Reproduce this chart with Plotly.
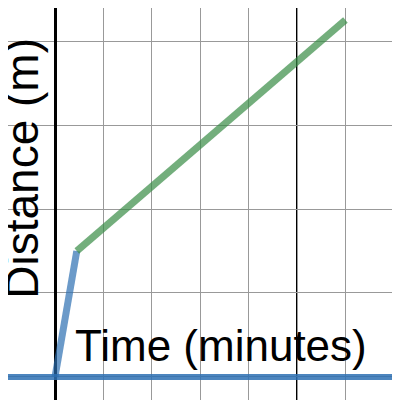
import plotly.graph_objects as go

baseline_x = [-1.2, 7.2]
baseline_y = [0, 0]
blue_x = [0, 0.45]
blue_y = [0, 1.5]
green_x = [0.45, 6.0]
green_y = [1.5, 4.25]

fig = go.Figure()
fig.add_trace(go.Scatter(x=baseline_x, y=baseline_y, mode="lines",
                         line=dict(color="#2d70b3", width=6), opacity=0.85))
fig.add_trace(go.Scatter(x=blue_x, y=blue_y, mode="lines",
                         line=dict(color="#2d70b3", width=7), opacity=0.7))
fig.add_trace(go.Scatter(x=green_x, y=green_y, mode="lines",
                         line=dict(color="#388c46", width=7), opacity=0.7))
fig.add_shape(type="line", x0=5, x1=5, y0=-1, y1=5, xref="x", yref="y",
              line=dict(color="black", width=2), layer="below")
fig.add_annotation(x=3.43, y=0.38, text="Time (minutes)", showarrow=False,
                   font=dict(size=44, color="black", family="Liberation Sans"))
fig.add_annotation(x=-0.68, y=2.48, text="Distance (m)", showarrow=False, textangle=-90,
                   font=dict(size=46, color="black", family="Liberation Sans"))
fig.update_layout(
    width=392, height=392, margin=dict(l=0, r=0, t=0, b=0),
    plot_bgcolor="white", paper_bgcolor="white", showlegend=False,
    xaxis=dict(range=[-0.971, 7.128], dtick=1, showgrid=True, gridcolor="#999999",
               gridwidth=1, zeroline=True, zerolinecolor="black", zerolinewidth=3,
               showticklabels=False),
    yaxis=dict(range=[-0.274, 4.393], dtick=1, showgrid=True, gridcolor="#999999",
               gridwidth=1, zeroline=False, showticklabels=False),
)
fig.write_html("out.html")
